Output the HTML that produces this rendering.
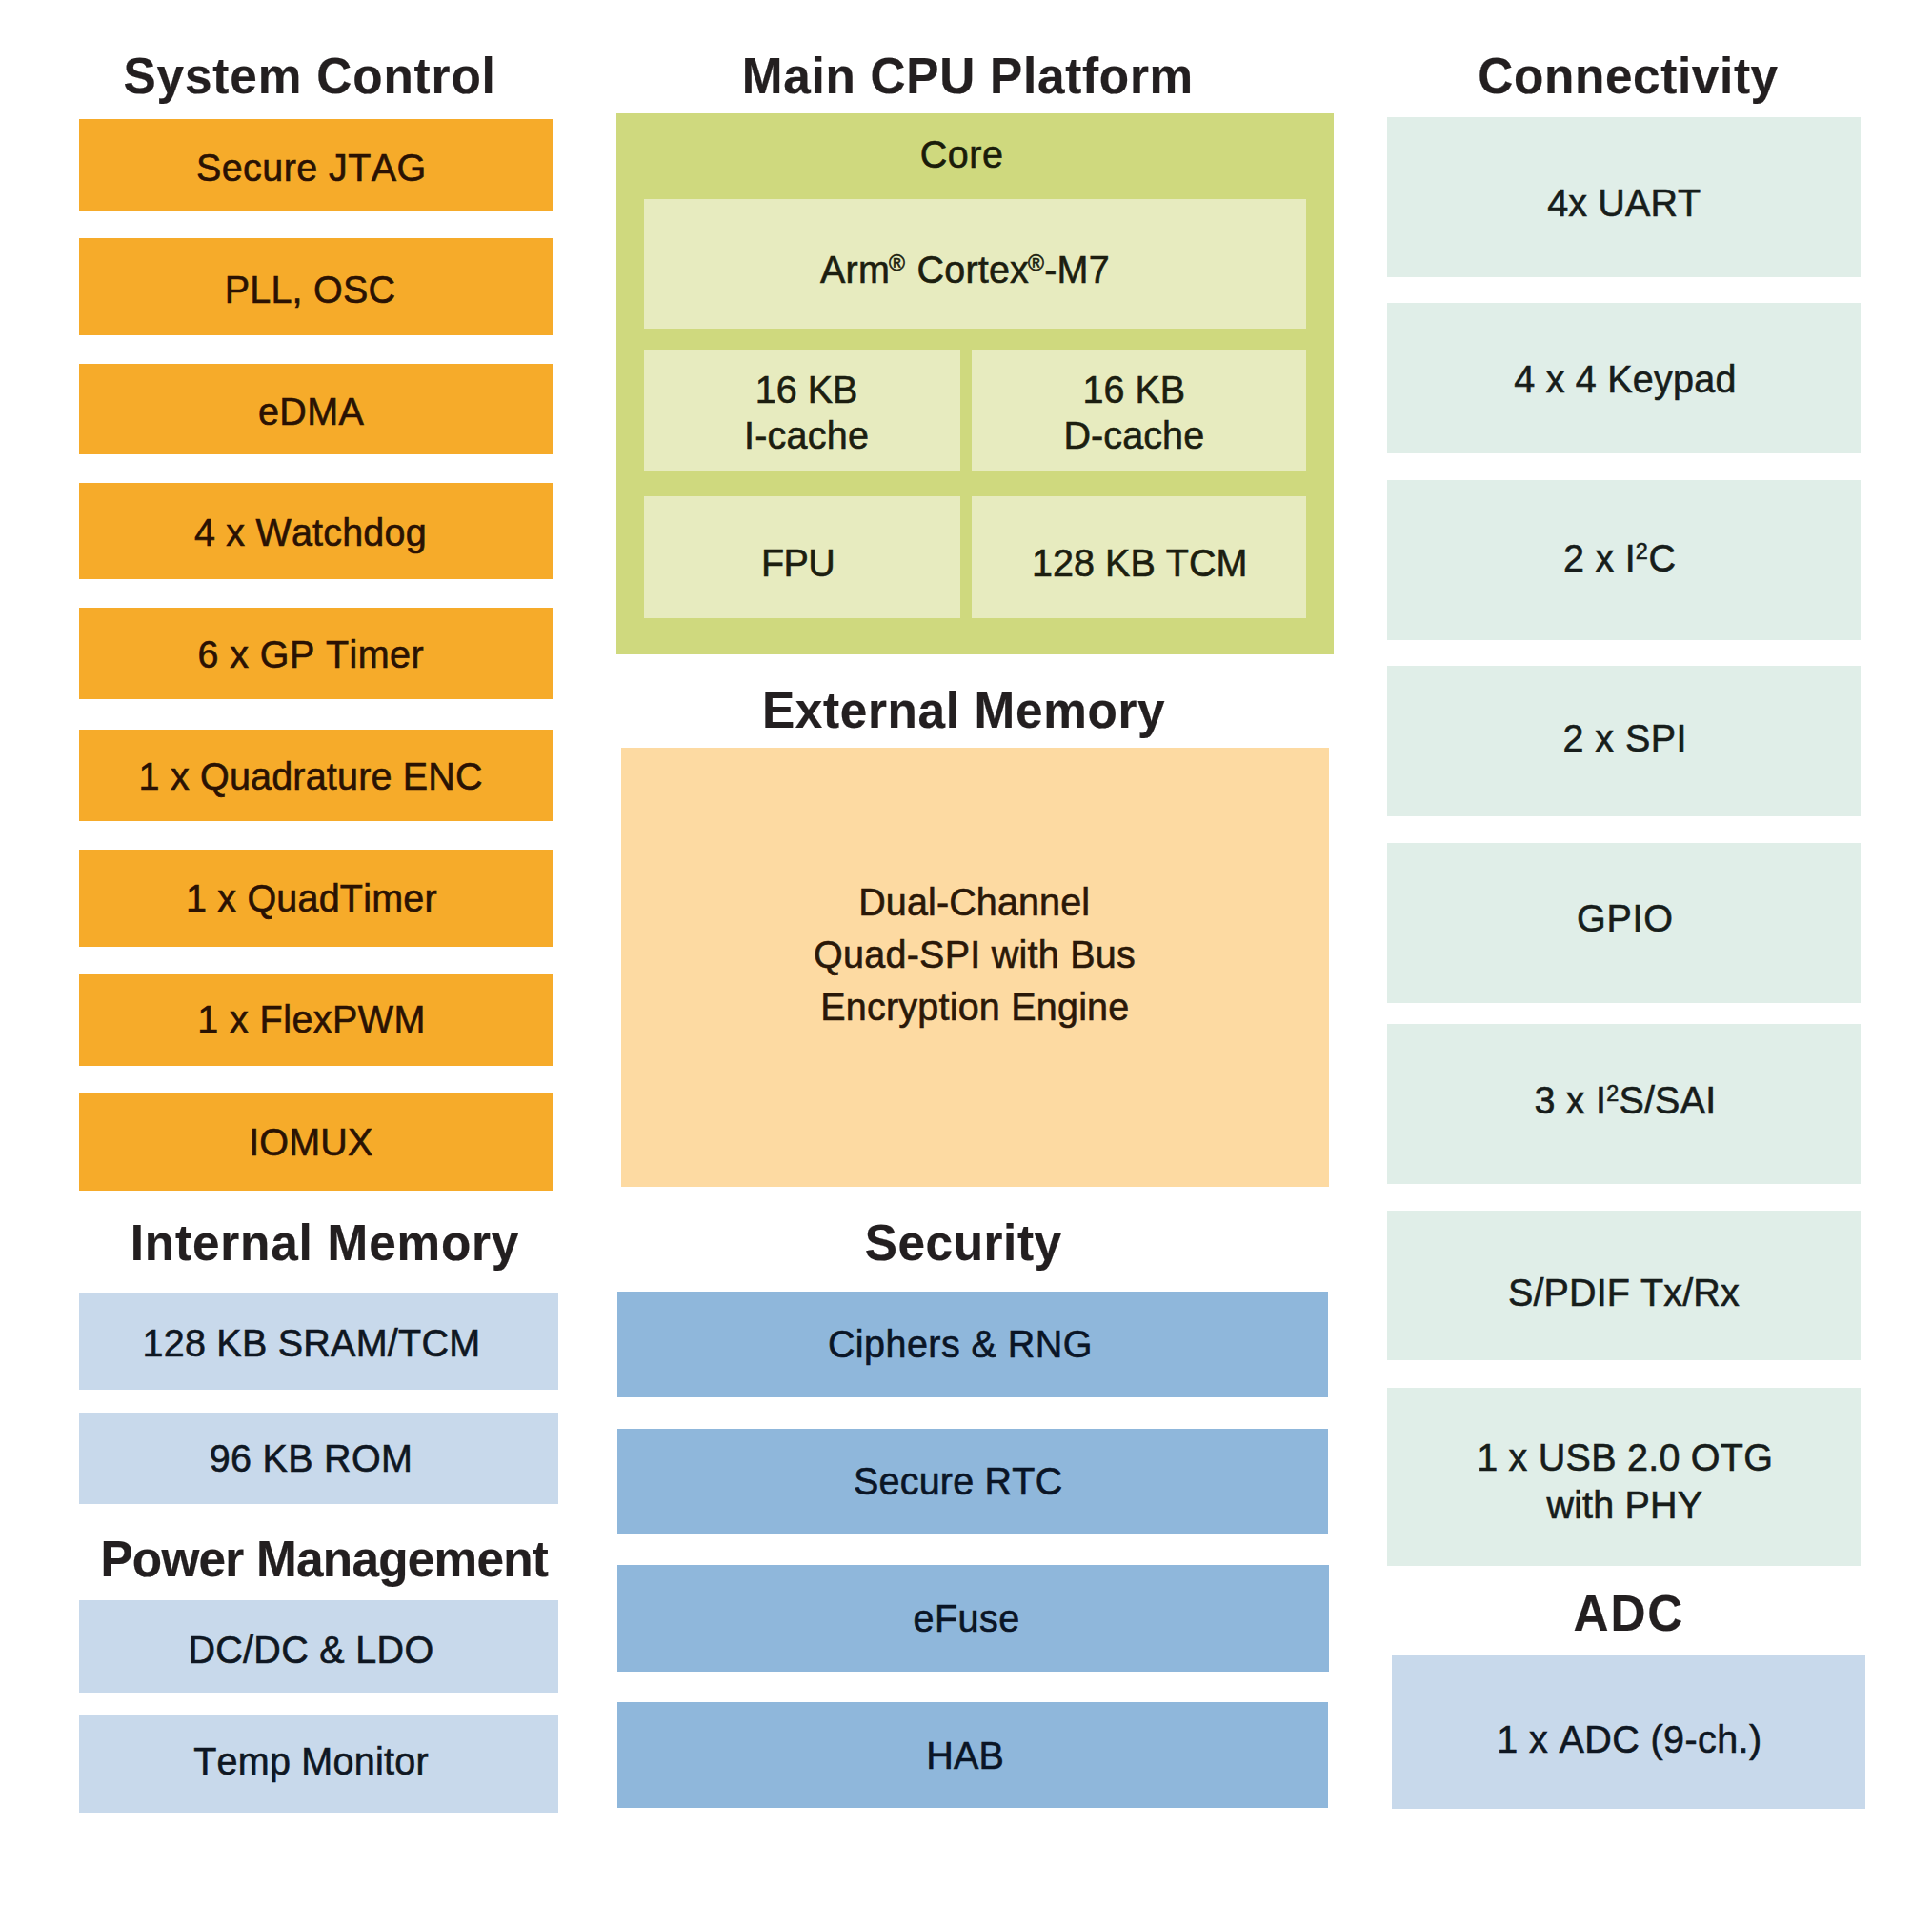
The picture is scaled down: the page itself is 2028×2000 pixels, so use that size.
<!DOCTYPE html>
<html lang="en"><head><meta charset="utf-8"><title>Block Diagram</title>
<style>
html,body{margin:0;padding:0;background:#fff;}
#d{position:relative;width:2028px;height:2000px;background:#fff;overflow:hidden;font-family:"Liberation Sans",Arial,Helvetica,sans-serif;color:#231f20;font-kerning:none;}
#d div{position:absolute;}
#d span{position:absolute;white-space:nowrap;line-height:1;font-size:39.5px;transform:scaleY(1.035);transform-origin:0 84.65%;-webkit-text-stroke:0.6px;}
#d span.h{font-weight:bold;font-size:51.3px;color:#231f20;-webkit-text-stroke:0.2px;}
#d sup{position:relative;vertical-align:baseline;line-height:0;}

.c0{background:#F6AB2A;}
.c1{background:#C8D9EB;}
.c2{background:#CFD97E;}
.c3{background:#E7EBBF;}
.c4{background:#FDDAA2;}
.c5{background:#8FB7DB;}
.c6{background:#E0EEE8;}
#d span.t0{color:#2a1203;}
#d span.t1{color:#0f1722;}
#d span.t2{color:#0a1526;}
#d span.t3{color:#1a1c0a;}
#d span.t4{color:#1c1e10;}
#d span.t5{color:#2a1808;}
#d span.t6{color:#171d1b;}
</style></head><body><div id="d">
<div class="c0" style="left:83px;top:125px;width:497px;height:96px"></div>
<div class="c0" style="left:83px;top:250px;width:497px;height:102px"></div>
<div class="c0" style="left:83px;top:381.5px;width:497px;height:95.5px"></div>
<div class="c0" style="left:83px;top:507px;width:497px;height:101px"></div>
<div class="c0" style="left:83px;top:638px;width:497px;height:95.5px"></div>
<div class="c0" style="left:83px;top:765.8px;width:497px;height:96.2px"></div>
<div class="c0" style="left:83px;top:891.6px;width:497px;height:102.2px"></div>
<div class="c0" style="left:83px;top:1023px;width:497px;height:95.5px"></div>
<div class="c0" style="left:83px;top:1148px;width:497px;height:102.4px"></div>
<div class="c1" style="left:83px;top:1357.5px;width:502.5px;height:101.5px"></div>
<div class="c1" style="left:83px;top:1483px;width:502.5px;height:95.5px"></div>
<div class="c1" style="left:83px;top:1679.8px;width:502.5px;height:97px"></div>
<div class="c1" style="left:83px;top:1800px;width:502.5px;height:102.5px"></div>
<div class="c2" style="left:647px;top:119px;width:753px;height:568px"></div>
<div class="c3" style="left:676px;top:209px;width:695px;height:136px"></div>
<div class="c3" style="left:676px;top:367.2px;width:332px;height:128.3px"></div>
<div class="c3" style="left:1020px;top:367.2px;width:351px;height:128.3px"></div>
<div class="c3" style="left:676px;top:520.6px;width:332px;height:128.4px"></div>
<div class="c3" style="left:1020px;top:520.6px;width:351px;height:128.4px"></div>
<div class="c4" style="left:652px;top:785px;width:743px;height:461.3px"></div>
<div class="c5" style="left:647.5px;top:1356px;width:746.5px;height:111px"></div>
<div class="c5" style="left:647.5px;top:1499.5px;width:746.5px;height:111px"></div>
<div class="c5" style="left:647.5px;top:1643px;width:747.1px;height:111.5px"></div>
<div class="c5" style="left:647.5px;top:1787px;width:746.5px;height:111px"></div>
<div class="c6" style="left:1456px;top:123px;width:497px;height:167.5px"></div>
<div class="c6" style="left:1456px;top:318px;width:497px;height:158px"></div>
<div class="c6" style="left:1456px;top:504px;width:497px;height:167.5px"></div>
<div class="c6" style="left:1456px;top:699px;width:497px;height:158px"></div>
<div class="c6" style="left:1456px;top:884.5px;width:497px;height:168px"></div>
<div class="c6" style="left:1456px;top:1075px;width:497px;height:168px"></div>
<div class="c6" style="left:1456px;top:1270.5px;width:497px;height:157.9px"></div>
<div class="c6" style="left:1456px;top:1457px;width:497px;height:186.5px"></div>
<div class="c1" style="left:1460.5px;top:1738px;width:497px;height:161px"></div>
<span class="h" style="left:129.40px;top:54.77px;letter-spacing:0.874px">System Control</span>
<span class="h" style="left:778.80px;top:54.97px;letter-spacing:0.731px">Main CPU Platform</span>
<span class="h" style="left:1551.30px;top:55.07px;letter-spacing:0.636px">Connectivity</span>
<span class="h" style="left:800.00px;top:721.17px;letter-spacing:0.653px">External Memory</span>
<span class="h" style="left:907.70px;top:1280.27px;letter-spacing:0.571px">Security</span>
<span class="h" style="left:136.80px;top:1279.77px;letter-spacing:0.808px">Internal Memory</span>
<span class="h" style="left:105.40px;top:1611.57px;letter-spacing:-0.750px">Power Management</span>
<span class="h" style="left:1651.50px;top:1668.87px;letter-spacing:1.855px">ADC</span>
<span class="t0" style="left:205.90px;top:156.86px;letter-spacing:0.435px">Secure JTAG</span>
<span class="t0" style="left:235.70px;top:284.96px;letter-spacing:0.214px">PLL, OSC</span>
<span class="t0" style="left:270.90px;top:412.86px;letter-spacing:0.401px">eDMA</span>
<span class="t0" style="left:204.00px;top:540.16px;letter-spacing:0.196px">4 x Watchdog</span>
<span class="t0" style="left:207.60px;top:668.36px;letter-spacing:0.392px">6 x GP Timer</span>
<span class="t0" style="left:145.60px;top:795.86px;letter-spacing:0.181px">1 x Quadrature ENC</span>
<span class="t0" style="left:195.00px;top:923.66px;letter-spacing:0.194px">1 x QuadTimer</span>
<span class="t0" style="left:207.20px;top:1050.86px;letter-spacing:0.438px">1 x FlexPWM</span>
<span class="t0" style="left:261.20px;top:1179.86px;letter-spacing:0.193px">IOMUX</span>
<span class="t1" style="left:149.50px;top:1391.06px;letter-spacing:0.243px">128 KB SRAM/TCM</span>
<span class="t1" style="left:219.80px;top:1511.96px;letter-spacing:0.284px">96 KB ROM</span>
<span class="t1" style="left:197.40px;top:1712.56px;letter-spacing:0.313px">DC/DC &amp; LDO</span>
<span class="t1" style="left:203.20px;top:1830.26px;letter-spacing:0.245px">Temp Monitor</span>
<span class="t3" style="left:965.80px;top:142.56px;letter-spacing:0.518px">Core</span>
<span class="t4" style="left:792.80px;top:389.76px;letter-spacing:0.011px">16 KB</span>
<span class="t4" style="left:781.00px;top:438.26px;letter-spacing:0.223px">I-cache</span>
<span class="t4" style="left:1136.50px;top:389.76px;letter-spacing:0.011px">16 KB</span>
<span class="t4" style="left:1116.40px;top:438.26px;letter-spacing:0.114px">D-cache</span>
<span class="t4" style="left:799.00px;top:571.66px;letter-spacing:-0.637px">FPU</span>
<span class="t4" style="left:1083.00px;top:571.66px;letter-spacing:0.033px">128 KB TCM</span>
<span class="t5" style="left:901.20px;top:928.16px;letter-spacing:0.122px">Dual-Channel</span>
<span class="t5" style="left:854.10px;top:982.86px;letter-spacing:0.247px">Quad-SPI with Bus</span>
<span class="t5" style="left:861.30px;top:1038.36px;letter-spacing:0.211px">Encryption Engine</span>
<span class="t2" style="left:868.90px;top:1392.06px;letter-spacing:0.454px">Ciphers &amp; RNG</span>
<span class="t2" style="left:895.90px;top:1536.06px;letter-spacing:0.224px">Secure RTC</span>
<span class="t2" style="left:958.40px;top:1680.06px;letter-spacing:0.521px">eFuse</span>
<span class="t2" style="left:972.20px;top:1823.56px;letter-spacing:0.264px">HAB</span>
<span class="t6" style="left:1624.20px;top:194.26px;letter-spacing:0.135px">4x UART</span>
<span class="t6" style="left:1589.30px;top:379.46px;letter-spacing:0.226px">4 x 4 Keypad</span>
<span class="t6" style="left:1640.40px;top:756.06px;letter-spacing:0.457px">2 x SPI</span>
<span class="t6" style="left:1655.10px;top:944.96px;letter-spacing:0.685px">GPIO</span>
<span class="t6" style="left:1583.10px;top:1338.26px;letter-spacing:0.105px">S/PDIF Tx/Rx</span>
<span class="t6" style="left:1550.20px;top:1510.96px;letter-spacing:0.243px">1 x USB 2.0 OTG</span>
<span class="t6" style="left:1623.50px;top:1561.06px;letter-spacing:0.159px">with PHY</span>
<span class="t1" style="left:1571.20px;top:1806.76px;letter-spacing:0.407px">1 x ADC (9-ch.)</span>

<span class="t4" style="left:861px;top:263.5px;letter-spacing:0.2px">Arm<sup style="font-size:23px;top:-12.8px;margin-left:-1px;margin-right:1.2px">®</sup> Cortex<sup style="font-size:23px;top:-12.8px;margin-left:-1px">®</sup>-M7</span>
<span class="t6" style="left:1641px;top:566.6px;word-spacing:0.6px">2 x I<sup style="font-size:23.4px;top:-12.9px;margin-right:0.6px">2</sup>C</span>
<span class="t6" style="left:1610.5px;top:1135.8px;letter-spacing:0.2px">3 x I<sup style="font-size:23.4px;top:-12.9px">2</sup>S/SAI</span>

</div></body></html>
